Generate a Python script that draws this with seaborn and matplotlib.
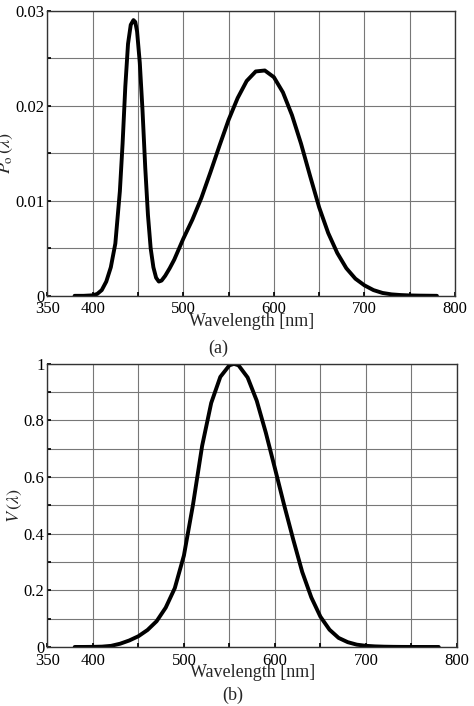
import matplotlib
matplotlib.use("Agg")
import matplotlib.pyplot as plt
import seaborn as sns
import pandas as pd

wl_a = [380,390,400,405,410,415,420,425,430,433,436,439,442,445,447,449,452,455,458,461,464,467,470,473,476,480,485,490,495,500,510,520,530,540,550,560,570,580,590,600,610,620,630,640,650,660,670,680,690,700,710,720,730,740,750,760,770,780]
po_a = [0,0,0.00005,0.0002,0.0006,0.0015,0.003,0.0055,0.011,0.016,0.022,0.0265,0.0285,0.0290,0.0288,0.0278,0.0245,0.0195,0.0135,0.0085,0.0050,0.0030,0.0019,0.0015,0.0016,0.0021,0.0029,0.0038,0.0049,0.0060,0.0080,0.0103,0.0130,0.0158,0.0185,0.0208,0.0226,0.0236,0.0237,0.0230,0.0214,0.0190,0.0160,0.0126,0.0093,0.0066,0.0045,0.0029,0.0018,0.0011,0.0006,0.0003,0.00015,0.00008,0.00004,0.00002,0.00001,0]

wl_b = [380,390,400,410,420,430,440,450,460,470,480,490,500,510,520,530,540,550,555,560,570,580,590,600,610,620,630,640,650,660,670,680,690,700,710,720,730,740,750,760,770,780]
v_b = [0.00004,0.00012,0.0004,0.0012,0.004,0.0116,0.023,0.038,0.06,0.091,0.139,0.208,0.323,0.503,0.710,0.862,0.954,0.995,1.0,0.995,0.952,0.870,0.757,0.631,0.503,0.381,0.265,0.175,0.107,0.061,0.032,0.017,0.0082,0.0041,0.0021,0.00105,0.00052,0.00025,0.00012,0.00006,0.00003,0.000015]

xticks = [350,400,450,500,550,600,650,700,750,800]
xlabels = ["350","400","","500","","600","","700","","800"]

sns.set_theme(style="ticks")
plt.rcParams['font.family'] = ['Liberation Serif', 'DejaVu Serif']
plt.rcParams['mathtext.fontset'] = 'stix'

fig = plt.figure(figsize=(4.74, 7.06), dpi=100)
ax1 = fig.add_axes([0.10, 0.581, 0.86, 0.404])
ax2 = fig.add_axes([0.10, 0.0836, 0.864, 0.401])

def style(ax, yticks, ylabels, ylim):
    ax.set_xlim(350, 800)
    ax.set_ylim(*ylim)
    ax.set_xticks(xticks)
    ax.set_xticklabels(xlabels)
    ax.set_yticks(yticks)
    ax.set_yticklabels(ylabels)
    ax.grid(True, color="#777777", linewidth=0.8)
    ax.tick_params(direction="in", length=3, labelsize=12, pad=2, colors="black")
    ax.tick_params(axis="x", pad=4)
    for s in ax.spines.values():
        s.set_color("#333333"); s.set_linewidth(1.0)
    ax.set_xlabel("Wavelength [nm]", fontsize=13, labelpad=-3)

sns.lineplot(data=pd.DataFrame({"wl": wl_a, "p": po_a}), x="wl", y="p", ax=ax1, color="black", linewidth=2.8)
style(ax1, [0,0.005,0.01,0.015,0.02,0.025,0.03], ["0","","0.01","","0.02","","0.03"], (0,0.03))
ax1.set_ylabel(r"$P_{\rm o}\,(\lambda)$", fontsize=13, labelpad=0)
fig.text(0.46, 1-348/706, "(a)", ha="center", va="center", fontsize=13)

sns.lineplot(data=pd.DataFrame({"wl": wl_b, "v": v_b}), x="wl", y="v", ax=ax2, color="black", linewidth=2.8)
style(ax2, [0,0.1,0.2,0.3,0.4,0.5,0.6,0.7,0.8,0.9,1.0], ["0","","0.2","","0.4","","0.6","","0.8","","1"], (0,1))
ax2.set_ylabel(r"$V\,(\lambda)$", fontsize=13, labelpad=0)
fig.text(0.49, 1-695/706, "(b)", ha="center", va="center", fontsize=13)

fig.savefig("out.png", dpi=100)
